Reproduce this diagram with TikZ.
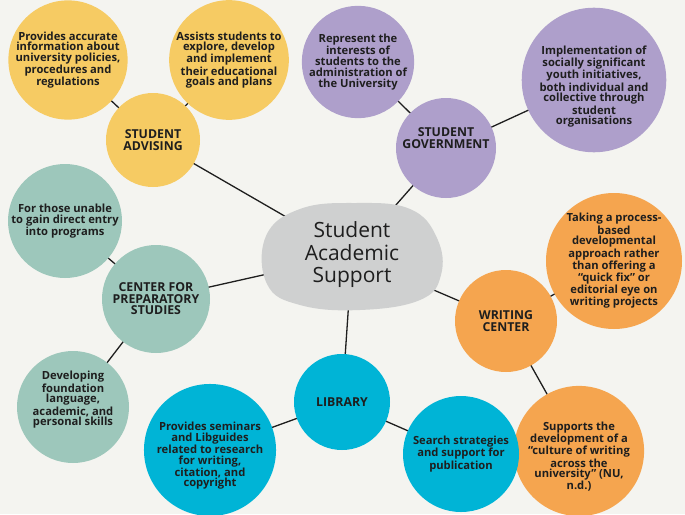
\documentclass[tikz,border=0pt]{standalone}
\usepackage{fontspec}
\setmainfont{Open Sans}
\definecolor{bgc}{HTML}{F4F4F0}
\definecolor{yel}{HTML}{F6CB63}
\definecolor{pur}{HTML}{AE9FCB}
\definecolor{teal}{HTML}{9DC7BB}
\definecolor{ora}{HTML}{F5A54F}
\definecolor{cya}{HTML}{00B4D6}
\definecolor{gry}{HTML}{CFD0D0}
\definecolor{ink}{HTML}{1E1E1E}
\pgfdeclarelayer{bglayer}
\pgfdeclarelayer{linelayer}
\pgfsetlayers{bglayer,linelayer,main}
\newcommand{\dropdown}[1]{\rule{0pt}{#1}}
\tikzset{
  bubble/.style={circle, inner sep=0pt, align=center, text=ink,
    font=\bfseries\fontsize{11.2}{10.7}\selectfont},
  hub/.style={bubble, font=\bfseries\fontsize{12.3}{11.5}\selectfont},
  link/.style={draw=ink, line width=1.3pt},
}
\begin{document}
\begin{tikzpicture}[x=1pt,y=-1pt]
\begin{pgfonlayer}{bglayer}
\fill[bgc] (0,0) rectangle (685,514);
\end{pgfonlayer}
\useasboundingbox (0,0) rectangle (685,514);
% central blob
\fill[gry] plot[smooth cycle, tension=0.7] coordinates {(266,236) (300,209) (355,203) (410,209) (437,238) (441,275) (420,300) (360,310) (300,305) (267,284)};
\node[align=center, text=ink, font=\fontsize{21}{22.5}\selectfont] (sas) at (352,255) {Student\\Academic\\Support};
% student advising
\node[hub, fill=yel, minimum size=94pt] (adv) at (153,140) {STUDENT\\ADVISING};
\node[bubble, fill=yel, minimum size=114pt] (adv1) at (68,60) {Provides accurate\\information about\\university policies,\\procedures and\\regulations};
\node[bubble, fill=yel, minimum size=118pt] (adv2) at (229,60) {Assists students to\\explore, develop\\and implement\\their educational\\goals and plans};
% student government
\node[hub, fill=pur, minimum size=100pt] (gov) at (446,148) {STUDENT\\GOVERNMENT\\[8pt]};
\node[bubble, fill=pur, minimum size=112pt] (gov1) at (358,62) {Represent the\\interests of\\students to the\\administration of\\the University};
\node[bubble, fill=pur, minimum size=136pt] (gov2) at (594,80) {\dropdown{22pt}Implementation of\\socially significant\\youth initiatives,\\both individual and\\collective through\\student\\organisations};
% center for preparatory studies
\node[hub, fill=teal, minimum size=108pt] (prep) at (156,299) {CENTER FOR\\PREPARATORY\\STUDIES};
\node[bubble, fill=teal, minimum size=114pt] (prep1) at (65,221) {For those unable\\to gain direct entry\\into programs};
\node[bubble, fill=teal, minimum size=112pt] (prep2) at (73,407) {Developing\\foundation\\language,\\academic, and\\personal skills\\[6pt]};
% writing center
\node[hub, fill=ora, minimum size=102pt] (wc) at (506,321) {WRITING\\CENTER};
\node[bubble, fill=ora, minimum size=136pt] (wc1) at (614,261) {Taking a process-\\based\\developmental\\approach rather\\than offering a\\“quick fix” or\\editorial eye on\\writing projects};
\node[bubble, fill=ora, minimum size=118pt] (wc2) at (579,451) {\dropdown{20pt}Supports the\\development of a\\“culture of writing\\across the\\university” (NU,\\n.d.)};
% library
\node[hub, fill=cya, minimum size=96pt] (lib) at (342,402) {LIBRARY};
\node[bubble, fill=cya, minimum size=120pt] (lib1) at (210,450) {\dropdown{20pt}Provides seminars\\and Libguides\\related to research\\for writing,\\citation, and\\copyright};
\node[bubble, fill=cya, minimum size=116pt] (lib2) at (461,454) {Search strategies\\and support for\\publication};
% connectors
\begin{pgfonlayer}{linelayer}
\draw[link] (sas.center) -- (adv.center);
\draw[link] (sas.center) -- (gov.center);
\draw[link] (sas.center) -- (prep.center);
\draw[link] (sas.center) -- (wc.center);
\draw[link] (sas.center) -- (lib.center);
\draw[link] (adv.center) -- (adv1.center);
\draw[link] (adv.center) -- (adv2.center);
\draw[link] (gov.center) -- (gov1.center);
\draw[link] (gov.center) -- (gov2.center);
\draw[link] (prep.center) -- (prep1.center);
\draw[link] (prep.center) -- (prep2.center);
\draw[link] (wc.center) -- (wc1.center);
\draw[link] (wc.center) -- (wc2.center);
\draw[link] (lib.center) -- (lib1.center);
\draw[link] (lib.center) -- (lib2.center);
\end{pgfonlayer}
\end{tikzpicture}
\end{document}
